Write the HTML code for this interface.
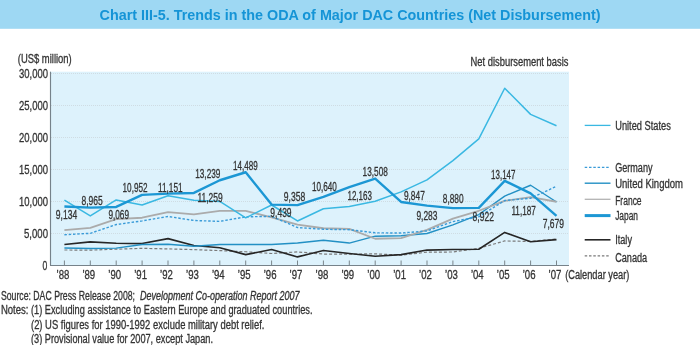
<!DOCTYPE html>
<html><head><meta charset="utf-8"><style>
html,body{margin:0;padding:0;background:#fff;width:700px;height:345px;overflow:hidden;}
svg{display:block;font-family:"Liberation Sans",sans-serif;will-change:transform;}
</style></head><body>
<svg width="700" height="345" viewBox="0 0 700 345" font-family="Liberation Sans, sans-serif"><rect x="0" y="0" width="700" height="345" fill="#ffffff"/>
<rect x="0" y="0" width="700" height="28.8" fill="#9ed8f3"/>
<text x="99.60" y="19.50" textLength="500.90" lengthAdjust="spacingAndGlyphs" font-size="14.80" fill="#1594d6" stroke="#1594d6" stroke-width="0" font-weight="bold">Chart III-5. Trends in the ODA of Major DAC Countries (Net Disbursement)</text>
<rect x="50.5" y="71.7" width="518.5" height="193.3" fill="#ddf2fc"/>
<line x1="51" y1="233.5" x2="569" y2="233.5" stroke="#cfdce3" stroke-width="1" stroke-dasharray="1,1"/>
<line x1="51" y1="201.5" x2="569" y2="201.5" stroke="#cfdce3" stroke-width="1" stroke-dasharray="1,1"/>
<line x1="51" y1="169.5" x2="569" y2="169.5" stroke="#cfdce3" stroke-width="1" stroke-dasharray="1,1"/>
<line x1="51" y1="137.5" x2="569" y2="137.5" stroke="#cfdce3" stroke-width="1" stroke-dasharray="1,1"/>
<line x1="51" y1="105.5" x2="569" y2="105.5" stroke="#cfdce3" stroke-width="1" stroke-dasharray="1,1"/>
<line x1="51" y1="73.5" x2="569" y2="73.5" stroke="#cfdce3" stroke-width="1" stroke-dasharray="1,1"/>
<line x1="64.40" y1="260.5" x2="64.40" y2="265" stroke="#7a868c" stroke-width="1.0"/>
<line x1="90.30" y1="260.5" x2="90.30" y2="265" stroke="#7a868c" stroke-width="1.0"/>
<line x1="116.20" y1="260.5" x2="116.20" y2="265" stroke="#7a868c" stroke-width="1.0"/>
<line x1="142.10" y1="260.5" x2="142.10" y2="265" stroke="#7a868c" stroke-width="1.0"/>
<line x1="168.00" y1="260.5" x2="168.00" y2="265" stroke="#7a868c" stroke-width="1.0"/>
<line x1="193.90" y1="260.5" x2="193.90" y2="265" stroke="#7a868c" stroke-width="1.0"/>
<line x1="219.80" y1="260.5" x2="219.80" y2="265" stroke="#7a868c" stroke-width="1.0"/>
<line x1="245.70" y1="260.5" x2="245.70" y2="265" stroke="#7a868c" stroke-width="1.0"/>
<line x1="271.60" y1="260.5" x2="271.60" y2="265" stroke="#7a868c" stroke-width="1.0"/>
<line x1="297.50" y1="260.5" x2="297.50" y2="265" stroke="#7a868c" stroke-width="1.0"/>
<line x1="323.40" y1="260.5" x2="323.40" y2="265" stroke="#7a868c" stroke-width="1.0"/>
<line x1="349.30" y1="260.5" x2="349.30" y2="265" stroke="#7a868c" stroke-width="1.0"/>
<line x1="375.20" y1="260.5" x2="375.20" y2="265" stroke="#7a868c" stroke-width="1.0"/>
<line x1="401.10" y1="260.5" x2="401.10" y2="265" stroke="#7a868c" stroke-width="1.0"/>
<line x1="427.00" y1="260.5" x2="427.00" y2="265" stroke="#7a868c" stroke-width="1.0"/>
<line x1="452.90" y1="260.5" x2="452.90" y2="265" stroke="#7a868c" stroke-width="1.0"/>
<line x1="478.80" y1="260.5" x2="478.80" y2="265" stroke="#7a868c" stroke-width="1.0"/>
<line x1="504.70" y1="260.5" x2="504.70" y2="265" stroke="#7a868c" stroke-width="1.0"/>
<line x1="530.60" y1="260.5" x2="530.60" y2="265" stroke="#7a868c" stroke-width="1.0"/>
<line x1="556.50" y1="260.5" x2="556.50" y2="265" stroke="#7a868c" stroke-width="1.0"/>
<line x1="50.5" y1="71.7" x2="50.5" y2="265.5" stroke="#76828a" stroke-width="1.15"/>
<line x1="50" y1="265.5" x2="569" y2="265.5" stroke="#76828a" stroke-width="1.15"/>
<polyline points="64.40,249.98 90.30,250.15 116.20,249.19 142.10,248.33 168.00,248.90 193.90,249.64 219.80,250.60 245.70,251.77 271.60,253.51 297.50,251.91 323.40,254.08 349.30,254.08 375.20,253.84 401.10,255.19 427.00,252.16 452.90,252.00 478.80,248.37 504.70,240.96 530.60,241.42 556.50,238.89" fill="none" stroke="#7a7a7a" stroke-width="1.2" stroke-dasharray="3,2"/>
<polyline points="64.40,244.56 90.30,241.88 116.20,243.27 142.10,243.58 168.00,238.62 193.90,245.52 219.80,247.69 245.70,254.61 271.60,249.54 297.50,256.90 323.40,250.42 349.30,253.44 375.20,256.19 401.10,254.59 427.00,250.08 452.90,249.43 478.80,249.24 504.70,232.42 530.60,241.70 556.50,239.59" fill="none" stroke="#262626" stroke-width="1.6" stroke-linejoin="round"/>
<polyline points="64.40,248.07 90.30,248.44 116.20,248.12 142.10,244.51 168.00,244.24 193.90,246.31 219.80,244.54 245.70,244.51 271.60,244.53 297.50,243.03 323.40,240.27 349.30,243.07 375.20,236.19 401.10,235.69 427.00,233.49 452.90,224.92 478.80,214.55 504.70,196.06 530.60,185.26 556.50,201.97" fill="none" stroke="#2390c4" stroke-width="1.4" stroke-linejoin="round"/>
<polyline points="64.40,230.04 90.30,227.87 116.20,219.16 142.10,217.73 168.00,212.07 193.90,214.34 219.80,210.82 245.70,210.96 271.60,217.31 297.50,224.64 323.40,228.25 349.30,228.91 375.20,238.73 401.10,238.13 427.00,229.89 452.90,218.58 478.80,210.77 504.70,200.83 530.60,197.15 556.50,201.74" fill="none" stroke="#ababab" stroke-width="1.8" stroke-linejoin="round"/>
<polyline points="64.40,234.72 90.30,233.33 116.20,224.55 142.10,220.90 168.00,216.47 193.90,220.49 219.80,221.36 245.70,216.85 271.60,216.35 297.50,227.52 323.40,229.28 349.30,229.70 375.20,232.81 401.10,233.06 427.00,230.93 452.90,221.58 478.80,216.78 504.70,200.48 530.60,198.22 556.50,186.34" fill="none" stroke="#3a9bd8" stroke-width="1.4" stroke-dasharray="2.5,1.8"/>
<polyline points="64.40,200.10 90.30,215.87 116.20,199.94 142.10,204.97 168.00,195.78 193.90,200.21 219.80,201.47 245.70,217.85 271.60,204.99 297.50,220.98 323.40,208.77 349.30,206.47 375.20,201.29 401.10,191.85 427.00,179.94 452.90,160.55 478.80,138.89 504.70,88.22 530.60,114.40 556.50,125.78" fill="none" stroke="#3ab8e2" stroke-width="1.5" stroke-linejoin="round"/>
<polyline points="64.40,206.54 90.30,207.62 116.20,206.96 142.10,194.91 168.00,193.63 193.90,192.94 219.80,180.27 245.70,172.27 271.60,204.59 297.50,205.11 323.40,196.90 349.30,187.16 375.20,178.55 401.10,201.98 427.00,205.59 452.90,208.17 478.80,207.90 504.70,180.86 530.60,193.40 556.50,215.85" fill="none" stroke="#1c97d4" stroke-width="2.4" stroke-linejoin="round"/>
<text x="55.80" y="218.60" textLength="21.40" lengthAdjust="spacingAndGlyphs" font-size="12.00" fill="#333333" stroke="#333333" stroke-width="0.3">9,134</text>
<text x="81.50" y="204.70" textLength="21.30" lengthAdjust="spacingAndGlyphs" font-size="12.00" fill="#333333" stroke="#333333" stroke-width="0.3">8,965</text>
<text x="108.40" y="219.00" textLength="20.60" lengthAdjust="spacingAndGlyphs" font-size="12.00" fill="#333333" stroke="#333333" stroke-width="0.3">9,069</text>
<text x="122.60" y="191.80" textLength="24.90" lengthAdjust="spacingAndGlyphs" font-size="12.00" fill="#333333" stroke="#333333" stroke-width="0.3">10,952</text>
<text x="158.00" y="191.60" textLength="24.60" lengthAdjust="spacingAndGlyphs" font-size="12.00" fill="#333333" stroke="#333333" stroke-width="0.3">11,151</text>
<text x="197.50" y="202.20" textLength="25.20" lengthAdjust="spacingAndGlyphs" font-size="12.00" fill="#333333" stroke="#333333" stroke-width="0.3">11,259</text>
<text x="195.20" y="178.40" textLength="25.20" lengthAdjust="spacingAndGlyphs" font-size="12.00" fill="#333333" stroke="#333333" stroke-width="0.3">13,239</text>
<text x="233.10" y="170.30" textLength="24.70" lengthAdjust="spacingAndGlyphs" font-size="12.00" fill="#333333" stroke="#333333" stroke-width="0.3">14,489</text>
<text x="270.30" y="216.50" textLength="21.30" lengthAdjust="spacingAndGlyphs" font-size="12.00" fill="#333333" stroke="#333333" stroke-width="0.3">9,439</text>
<text x="283.80" y="201.30" textLength="21.40" lengthAdjust="spacingAndGlyphs" font-size="12.00" fill="#333333" stroke="#333333" stroke-width="0.3">9,358</text>
<text x="311.90" y="191.30" textLength="24.90" lengthAdjust="spacingAndGlyphs" font-size="12.00" fill="#333333" stroke="#333333" stroke-width="0.3">10,640</text>
<text x="347.50" y="200.20" textLength="24.40" lengthAdjust="spacingAndGlyphs" font-size="12.00" fill="#333333" stroke="#333333" stroke-width="0.3">12,163</text>
<text x="362.60" y="175.90" textLength="25.20" lengthAdjust="spacingAndGlyphs" font-size="12.00" fill="#333333" stroke="#333333" stroke-width="0.3">13,508</text>
<text x="403.90" y="200.20" textLength="20.90" lengthAdjust="spacingAndGlyphs" font-size="12.00" fill="#333333" stroke="#333333" stroke-width="0.3">9,847</text>
<text x="416.40" y="220.30" textLength="21.10" lengthAdjust="spacingAndGlyphs" font-size="12.00" fill="#333333" stroke="#333333" stroke-width="0.3">9,283</text>
<text x="442.80" y="203.40" textLength="20.80" lengthAdjust="spacingAndGlyphs" font-size="12.00" fill="#333333" stroke="#333333" stroke-width="0.3">8,880</text>
<text x="472.50" y="220.90" textLength="21.40" lengthAdjust="spacingAndGlyphs" font-size="12.00" fill="#333333" stroke="#333333" stroke-width="0.3">8,922</text>
<text x="491.10" y="178.60" textLength="24.30" lengthAdjust="spacingAndGlyphs" font-size="12.00" fill="#333333" stroke="#333333" stroke-width="0.3">13,147</text>
<text x="511.40" y="214.70" textLength="24.40" lengthAdjust="spacingAndGlyphs" font-size="12.00" fill="#333333" stroke="#333333" stroke-width="0.3">11,187</text>
<text x="542.80" y="228.10" textLength="21.20" lengthAdjust="spacingAndGlyphs" font-size="12.00" fill="#333333" stroke="#333333" stroke-width="0.3">7,679</text>
<text x="42.40" y="269.50" textLength="4.80" lengthAdjust="spacingAndGlyphs" font-size="12.00" fill="#333333" stroke="#333333" stroke-width="0.3">0</text>
<text x="24.00" y="237.50" textLength="24.00" lengthAdjust="spacingAndGlyphs" font-size="12.00" fill="#333333" stroke="#333333" stroke-width="0.3">5,000</text>
<text x="19.00" y="205.50" textLength="29.00" lengthAdjust="spacingAndGlyphs" font-size="12.00" fill="#333333" stroke="#333333" stroke-width="0.3">10,000</text>
<text x="19.00" y="173.50" textLength="29.00" lengthAdjust="spacingAndGlyphs" font-size="12.00" fill="#333333" stroke="#333333" stroke-width="0.3">15,000</text>
<text x="19.00" y="141.50" textLength="29.00" lengthAdjust="spacingAndGlyphs" font-size="12.00" fill="#333333" stroke="#333333" stroke-width="0.3">20,000</text>
<text x="19.00" y="109.50" textLength="29.00" lengthAdjust="spacingAndGlyphs" font-size="12.00" fill="#333333" stroke="#333333" stroke-width="0.3">25,000</text>
<text x="19.00" y="77.50" textLength="29.00" lengthAdjust="spacingAndGlyphs" font-size="12.00" fill="#333333" stroke="#333333" stroke-width="0.3">30,000</text>
<text x="17.80" y="63.40" textLength="53.90" lengthAdjust="spacingAndGlyphs" font-size="12.00" fill="#333333" stroke="#333333" stroke-width="0.3">(US$ million)</text>
<text x="470.60" y="66.00" textLength="97.80" lengthAdjust="spacingAndGlyphs" font-size="12.00" fill="#333333" stroke="#333333" stroke-width="0.3">Net disbursement basis</text>
<text x="56.50" y="279.00" textLength="12.80" lengthAdjust="spacingAndGlyphs" font-size="12.00" fill="#333333" stroke="#333333" stroke-width="0.3">&#8217;88</text>
<text x="82.40" y="279.00" textLength="12.80" lengthAdjust="spacingAndGlyphs" font-size="12.00" fill="#333333" stroke="#333333" stroke-width="0.3">&#8217;89</text>
<text x="108.30" y="279.00" textLength="12.80" lengthAdjust="spacingAndGlyphs" font-size="12.00" fill="#333333" stroke="#333333" stroke-width="0.3">&#8217;90</text>
<text x="134.20" y="279.00" textLength="12.80" lengthAdjust="spacingAndGlyphs" font-size="12.00" fill="#333333" stroke="#333333" stroke-width="0.3">&#8217;91</text>
<text x="160.10" y="279.00" textLength="12.80" lengthAdjust="spacingAndGlyphs" font-size="12.00" fill="#333333" stroke="#333333" stroke-width="0.3">&#8217;92</text>
<text x="186.00" y="279.00" textLength="12.80" lengthAdjust="spacingAndGlyphs" font-size="12.00" fill="#333333" stroke="#333333" stroke-width="0.3">&#8217;93</text>
<text x="211.90" y="279.00" textLength="12.80" lengthAdjust="spacingAndGlyphs" font-size="12.00" fill="#333333" stroke="#333333" stroke-width="0.3">&#8217;94</text>
<text x="237.80" y="279.00" textLength="12.80" lengthAdjust="spacingAndGlyphs" font-size="12.00" fill="#333333" stroke="#333333" stroke-width="0.3">&#8217;95</text>
<text x="263.70" y="279.00" textLength="12.80" lengthAdjust="spacingAndGlyphs" font-size="12.00" fill="#333333" stroke="#333333" stroke-width="0.3">&#8217;96</text>
<text x="289.60" y="279.00" textLength="12.80" lengthAdjust="spacingAndGlyphs" font-size="12.00" fill="#333333" stroke="#333333" stroke-width="0.3">&#8217;97</text>
<text x="315.50" y="279.00" textLength="12.80" lengthAdjust="spacingAndGlyphs" font-size="12.00" fill="#333333" stroke="#333333" stroke-width="0.3">&#8217;98</text>
<text x="341.40" y="279.00" textLength="12.80" lengthAdjust="spacingAndGlyphs" font-size="12.00" fill="#333333" stroke="#333333" stroke-width="0.3">&#8217;99</text>
<text x="367.30" y="279.00" textLength="12.80" lengthAdjust="spacingAndGlyphs" font-size="12.00" fill="#333333" stroke="#333333" stroke-width="0.3">&#8217;00</text>
<text x="393.20" y="279.00" textLength="12.80" lengthAdjust="spacingAndGlyphs" font-size="12.00" fill="#333333" stroke="#333333" stroke-width="0.3">&#8217;01</text>
<text x="419.10" y="279.00" textLength="12.80" lengthAdjust="spacingAndGlyphs" font-size="12.00" fill="#333333" stroke="#333333" stroke-width="0.3">&#8217;02</text>
<text x="445.00" y="279.00" textLength="12.80" lengthAdjust="spacingAndGlyphs" font-size="12.00" fill="#333333" stroke="#333333" stroke-width="0.3">&#8217;03</text>
<text x="470.90" y="279.00" textLength="12.80" lengthAdjust="spacingAndGlyphs" font-size="12.00" fill="#333333" stroke="#333333" stroke-width="0.3">&#8217;04</text>
<text x="496.80" y="279.00" textLength="12.80" lengthAdjust="spacingAndGlyphs" font-size="12.00" fill="#333333" stroke="#333333" stroke-width="0.3">&#8217;05</text>
<text x="522.70" y="279.00" textLength="12.80" lengthAdjust="spacingAndGlyphs" font-size="12.00" fill="#333333" stroke="#333333" stroke-width="0.3">&#8217;06</text>
<text x="548.60" y="279.00" textLength="12.80" lengthAdjust="spacingAndGlyphs" font-size="12.00" fill="#333333" stroke="#333333" stroke-width="0.3">&#8217;07</text>
<text x="565.20" y="279.40" textLength="64.10" lengthAdjust="spacingAndGlyphs" font-size="12.00" fill="#333333" stroke="#333333" stroke-width="0.3">(Calendar year)</text>
<line x1="584.7" y1="125.40" x2="610.5" y2="125.40" stroke="#3ab8e2" stroke-width="1.3"/>
<text x="615.20" y="130.30" textLength="55.60" lengthAdjust="spacingAndGlyphs" font-size="12.00" fill="#333333" stroke="#333333" stroke-width="0.3">United States</text>
<line x1="584.7" y1="167.40" x2="610.5" y2="167.40" stroke="#3a9bd8" stroke-width="1.3" stroke-dasharray="2.5,1.8"/>
<text x="615.20" y="171.90" textLength="37.30" lengthAdjust="spacingAndGlyphs" font-size="12.00" fill="#333333" stroke="#333333" stroke-width="0.3">Germany</text>
<line x1="584.7" y1="183.20" x2="610.5" y2="183.20" stroke="#2390c4" stroke-width="1.4"/>
<text x="615.20" y="187.70" textLength="67.80" lengthAdjust="spacingAndGlyphs" font-size="12.00" fill="#333333" stroke="#333333" stroke-width="0.3">United Kingdom</text>
<line x1="584.7" y1="199.30" x2="610.5" y2="199.30" stroke="#b3b3b3" stroke-width="1.3"/>
<text x="615.20" y="204.70" textLength="26.40" lengthAdjust="spacingAndGlyphs" font-size="12.00" fill="#333333" stroke="#333333" stroke-width="0.3">France</text>
<line x1="584.7" y1="215.60" x2="610.5" y2="215.60" stroke="#1c97d4" stroke-width="3"/>
<text x="615.20" y="220.10" textLength="22.80" lengthAdjust="spacingAndGlyphs" font-size="12.00" fill="#333333" stroke="#333333" stroke-width="0.3">Japan</text>
<line x1="584.7" y1="239.80" x2="610.5" y2="239.80" stroke="#262626" stroke-width="1.6"/>
<text x="615.20" y="244.10" textLength="16.80" lengthAdjust="spacingAndGlyphs" font-size="12.00" fill="#333333" stroke="#333333" stroke-width="0.3">Italy</text>
<line x1="584.7" y1="255.80" x2="610.5" y2="255.80" stroke="#7a7a7a" stroke-width="1.2" stroke-dasharray="2.5,1.8"/>
<text x="615.20" y="261.60" textLength="32.00" lengthAdjust="spacingAndGlyphs" font-size="12.00" fill="#333333" stroke="#333333" stroke-width="0.3">Canada</text>
<text x="0.90" y="300.20" textLength="134.10" lengthAdjust="spacingAndGlyphs" font-size="12.00" fill="#333333" stroke="#333333" stroke-width="0.3">Source: DAC Press Release 2008;</text>
<text x="139.90" y="300.20" textLength="159.70" lengthAdjust="spacingAndGlyphs" font-size="12.00" fill="#333333" stroke="#333333" stroke-width="0.3" font-style="italic">Development Co-operation Report 2007</text>
<text x="0.90" y="314.30" textLength="27.60" lengthAdjust="spacingAndGlyphs" font-size="12.00" fill="#333333" stroke="#333333" stroke-width="0.3">Notes:</text>
<text x="31.00" y="314.30" textLength="281.50" lengthAdjust="spacingAndGlyphs" font-size="12.00" fill="#333333" stroke="#333333" stroke-width="0.3">(1) Excluding assistance to Eastern Europe and graduated countries.</text>
<text x="31.00" y="328.60" textLength="233.40" lengthAdjust="spacingAndGlyphs" font-size="12.00" fill="#333333" stroke="#333333" stroke-width="0.3">(2) US figures for 1990-1992 exclude military debt relief.</text>
<text x="31.00" y="343.00" textLength="182.00" lengthAdjust="spacingAndGlyphs" font-size="12.00" fill="#333333" stroke="#333333" stroke-width="0.3">(3) Provisional value for 2007, except Japan.</text></svg>
</body></html>
